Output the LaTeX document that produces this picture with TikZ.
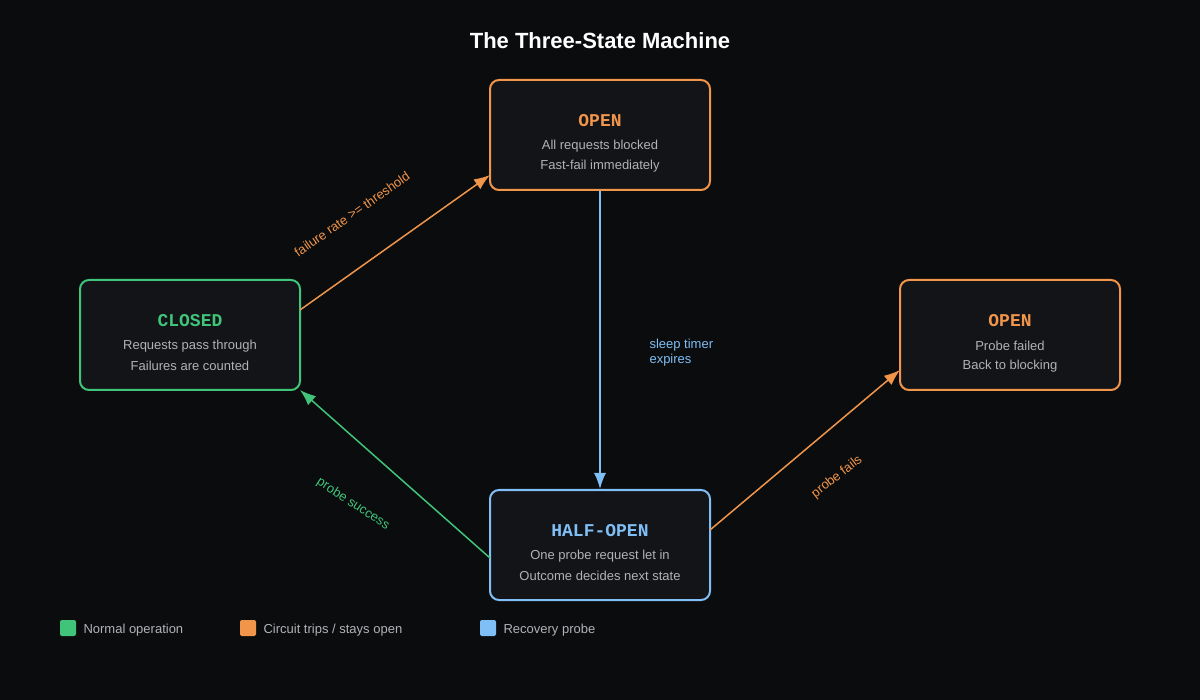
\documentclass[tikz,border=0pt]{standalone}
\usepackage{fontspec}
\setmainfont{Liberation Sans}
\setmonofont{Liberation Mono}
\usetikzlibrary{arrows.meta}
\definecolor{bg}{HTML}{0B0C0E}
\definecolor{boxbg}{HTML}{131418}
\definecolor{cor}{HTML}{F0954A}
\definecolor{cgr}{HTML}{3FC47A}
\definecolor{cbl}{HTML}{7FBFF5}
\definecolor{txt}{HTML}{B0B2B6}
\begin{document}
\begin{tikzpicture}[x=1pt,y=-1pt,
  box/.style={draw=#1,line width=2pt,fill=boxbg,rounded corners=9pt,minimum width=220pt,minimum height=110pt,inner sep=0pt},
  ttl/.style={font=\ttfamily\bfseries\fontsize{18}{20}\selectfont,text=#1},
  sub/.style={font=\fontsize{13}{15}\selectfont,text=txt},
  arr/.style={draw=#1,line width=1.5pt,-{Latex[length=16pt,width=12pt]}},
  lab/.style={font=\fontsize{13}{15}\selectfont,text=#1},
  leg/.style={font=\fontsize{13}{15}\selectfont,text=txt,anchor=base west}]
\fill[bg] (0,0) rectangle (1200,700);
\node[font=\bfseries\fontsize{22}{26}\selectfont,text=white] (title) at (600,41) {The Three-State Machine};
\node[box=cor] (open) at (600,135) {};
\node[box=cgr] (closed) at (190,335) {};
\node[box=cor] (open2) at (1010,335) {};
\node[box=cbl] (half) at (600,545) {};
\node[ttl=cor] (t1) at (600,121) {OPEN};
\node[sub] (s1a) at (600,146) {All requests blocked};
\node[sub] (s1b) at (600,166) {Fast-fail immediately};
\node[ttl=cgr] (t2) at (190,321) {CLOSED};
\node[sub] (s2a) at (190,346) {Requests pass through};
\node[sub] (s2b) at (190,366) {Failures are counted};
\node[ttl=cor] (t3) at (1010,321) {OPEN};
\node[sub] (s3a) at (1010,346) {Probe failed};
\node[sub] (s3b) at (1010,366) {Back to blocking};
\node[ttl=cbl] (t4) at (600,531) {HALF-OPEN};
\node[sub] (s4a) at (600,556) {One probe request let in};
\node[sub] (s4b) at (600,576) {Outcome decides next state};
\coordinate (c1) at (300,310); \coordinate (o1) at (490,175);
\coordinate (h1) at (490,558); \coordinate (c2) at (300,390);
\coordinate (h2) at (710,530); \coordinate (o2) at (900,370);
\draw[arr=cor] (c1) -- (o1);
\draw[arr=cbl] (open.south) -- (half.north);
\draw[arr=cgr] (h1) -- (c2);
\draw[arr=cor] (h2) -- (o2);
\node[lab=cor,rotate=35] (l1) at (352,214) {failure rate >= threshold};
\node[lab=cbl,anchor=west,align=left] (l2) at (646,353) {sleep timer\\expires};
\node[lab=cgr,rotate=-33] (l3) at (353,504) {probe success};
\node[lab=cor,rotate=38] (l4) at (837,477) {probe fails};
\fill[cgr,rounded corners=2pt] (60,620) rectangle (76,636);
\fill[cor,rounded corners=2pt] (240,620) rectangle (256,636);
\fill[cbl,rounded corners=2pt] (480,620) rectangle (496,636);
\node[leg] (g1) at (80,633) {Normal operation};
\node[leg] (g2) at (260,633) {Circuit trips / stays open};
\node[leg] (g3) at (500,633) {Recovery probe};
\end{tikzpicture}
\end{document}
